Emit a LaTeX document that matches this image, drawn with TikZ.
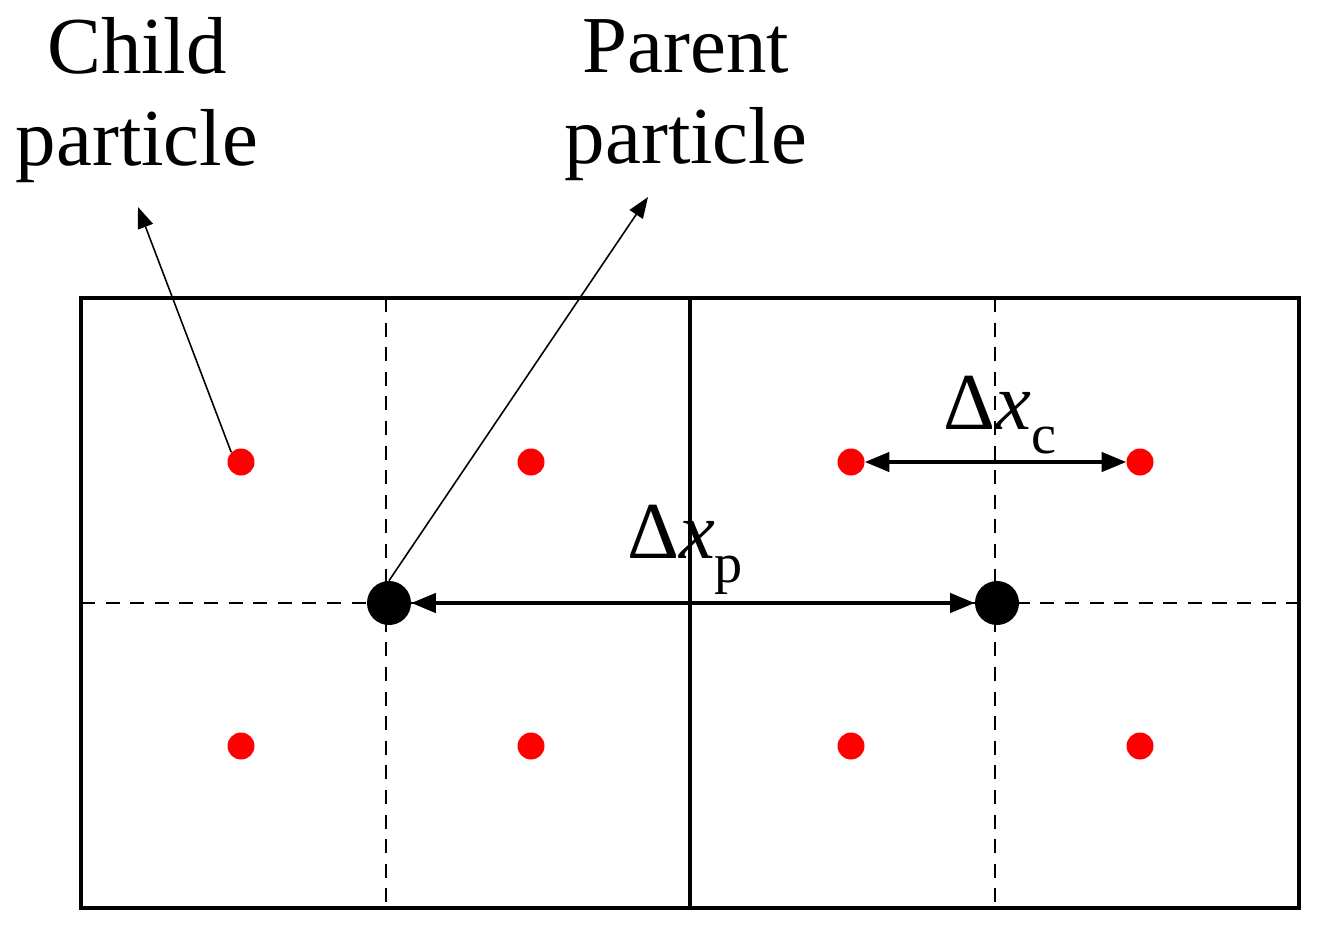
\documentclass[tikz,border=0pt]{standalone}
\usepackage{fontspec}
\setmainfont{Liberation Serif}
\usetikzlibrary{arrows.meta}
\newcommand{\mysub}[1]{\raisebox{-0.3em}{\fontsize{32}{36}\selectfont #1}}
\begin{document}
\begin{tikzpicture}[x=0.02cm,y=-0.02cm,
  lbl/.style={font=\fontsize{46}{52}\selectfont,align=center,inner sep=0},
  dashline/.style={line width=1.6pt,dash pattern=on 8pt off 6pt},
  red dot/.style={circle,fill=red,inner sep=0,minimum size=0.54cm},
  parent/.style={circle,fill=black,inner sep=0,minimum size=0.88cm},
  arr/.style={-{Triangle[length=12pt,width=9pt]},line width=0.9pt},
  darr/.style={{Triangle[length=14pt,width=11pt]}-{Triangle[length=14pt,width=11pt]},line width=2pt}]
\useasboundingbox (0,0) rectangle (1325,933);
\draw[dashline] (386,298) -- (386,908);
\draw[dashline] (995,298) -- (995,908);
\draw[dashline] (81,603) -- (1302,603);
\draw[line width=2pt] (690,298) -- (690,908);
\draw[line width=2.6pt] (81,298) rectangle (1299,908);
\foreach \x/\n in {241/a,531/b,851/c,1140/d}{
  \node[red dot] (t\n) at (\x,462) {};
  \node[red dot] (b\n) at (\x,746) {};}
\node[parent] (p1) at (389,603) {};
\node[parent] (p2) at (997,603) {};
\draw[darr] (p1) -- (p2);
\draw[darr] (tc) -- (td);
\node[lbl] at (685,550) {Δ\textit{x}\mysub{p}};
\node[lbl] at (1000,415) {Δ\textit{x}\mysub{c}};
\node[lbl] (child) at (137,100) {Child\\particle};
\node[lbl] (par) at (686,100) {Parent\\particle};
\coordinate (ce) at (138,207);
\coordinate (pe) at (648,197);
\draw[arr] (ta.north west) -- (ce);
\draw[arr] (p1.north) -- (pe);
\end{tikzpicture}
\end{document}
